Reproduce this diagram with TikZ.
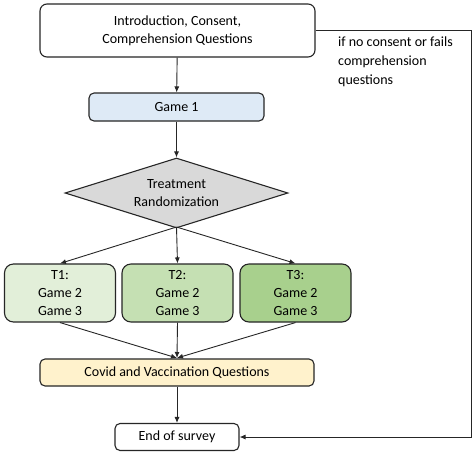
\documentclass[tikz,border=0pt]{standalone}
\usepackage{fontspec}
\setmainfont{Carlito}
\usetikzlibrary{positioning, shapes.geometric, arrows.meta}

\definecolor{lineclr}{HTML}{262626}
\definecolor{gameone}{HTML}{DEEAF6}
\definecolor{tone}{HTML}{E2EFD9}
\definecolor{ttwo}{HTML}{C5E0B3}
\definecolor{tthree}{HTML}{A8D08D}
\definecolor{covid}{HTML}{FFF2CC}
\definecolor{randclr}{HTML}{D9D9D9}

\tikzset{
  box/.style={draw=lineclr, line width=1.1pt, rounded corners=5pt, align=center, inner sep=0pt},
  treat/.style={box, rounded corners=9pt, minimum width=111pt, minimum height=58pt},
  flow/.style={-{Latex[length=6pt,width=5pt]}, line width=0.9pt, draw=lineclr}
}

\begin{document}
\begin{tikzpicture}[x=1pt, y=-1pt, font=\fontsize{14}{18}\selectfont]
        \useasboundingbox (0,0) rectangle (474,456);
        \fill[white] (0,0) rectangle (474,456);

        \node[box, minimum width=275pt, minimum height=53pt, rounded corners=7pt] (intro) at (177.5,30.5) {Introduction, Consent,\\Comprehension Questions};
        \node[box, fill=gameone, minimum width=175pt, minimum height=28pt] (game1) at (176.5,107) {Game 1};
        \node[diamond, draw=lineclr, line width=1.1pt, fill=randclr, aspect=3.2, inner sep=0pt,
              minimum width=223pt, minimum height=70pt, align=center] (rand) at (176.5,193) {Treatment\\Randomization};

        \node[treat, fill=tone] (t1) at (60,293) {T1:\\Game 2\\Game 3};
        \node[treat, fill=ttwo] (t2) at (177.5,293) {T2:\\Game 2\\Game 3};
        \node[treat, fill=tthree] (t3) at (295.5,293) {T3:\\Game 2\\Game 3};

        \node[box, fill=covid, minimum width=274pt, minimum height=27pt] (covid) at (177,372.5) {Covid and Vaccination Questions};
        \node[box, minimum width=124pt, minimum height=27pt] (end) at (177,437) {End of survey};

        \coordinate (rbot) at (176.5,227);
        \coordinate (ctop) at (177,358);
        \coordinate (cornA) at (471,30.5);
        \coordinate (cornB) at (471,437);

        \draw[flow] (intro) -- (game1);
        \draw[flow] (game1) -- (rand);
        \draw[flow] (rbot) -- (t1.north);
        \draw[flow] (rbot) -- (t2.north);
        \draw[flow] (rbot) -- (t3.north);
        \draw[flow] (t1.south) -- (ctop);
        \draw[flow] (t2.south) -- (ctop);
        \draw[flow] (t3.south) -- (ctop);
        \draw[flow] (covid) -- (end);
        \draw[flow] (intro.east |- cornA) -- (cornA) -- (cornB) -- (end.east);

        \node[anchor=north west, align=left, inner sep=0pt, font=\fontsize{14}{19}\selectfont] (note) at (338,37) {if no consent or fails\\comprehension\\questions};
      \end{tikzpicture}
\end{document}
